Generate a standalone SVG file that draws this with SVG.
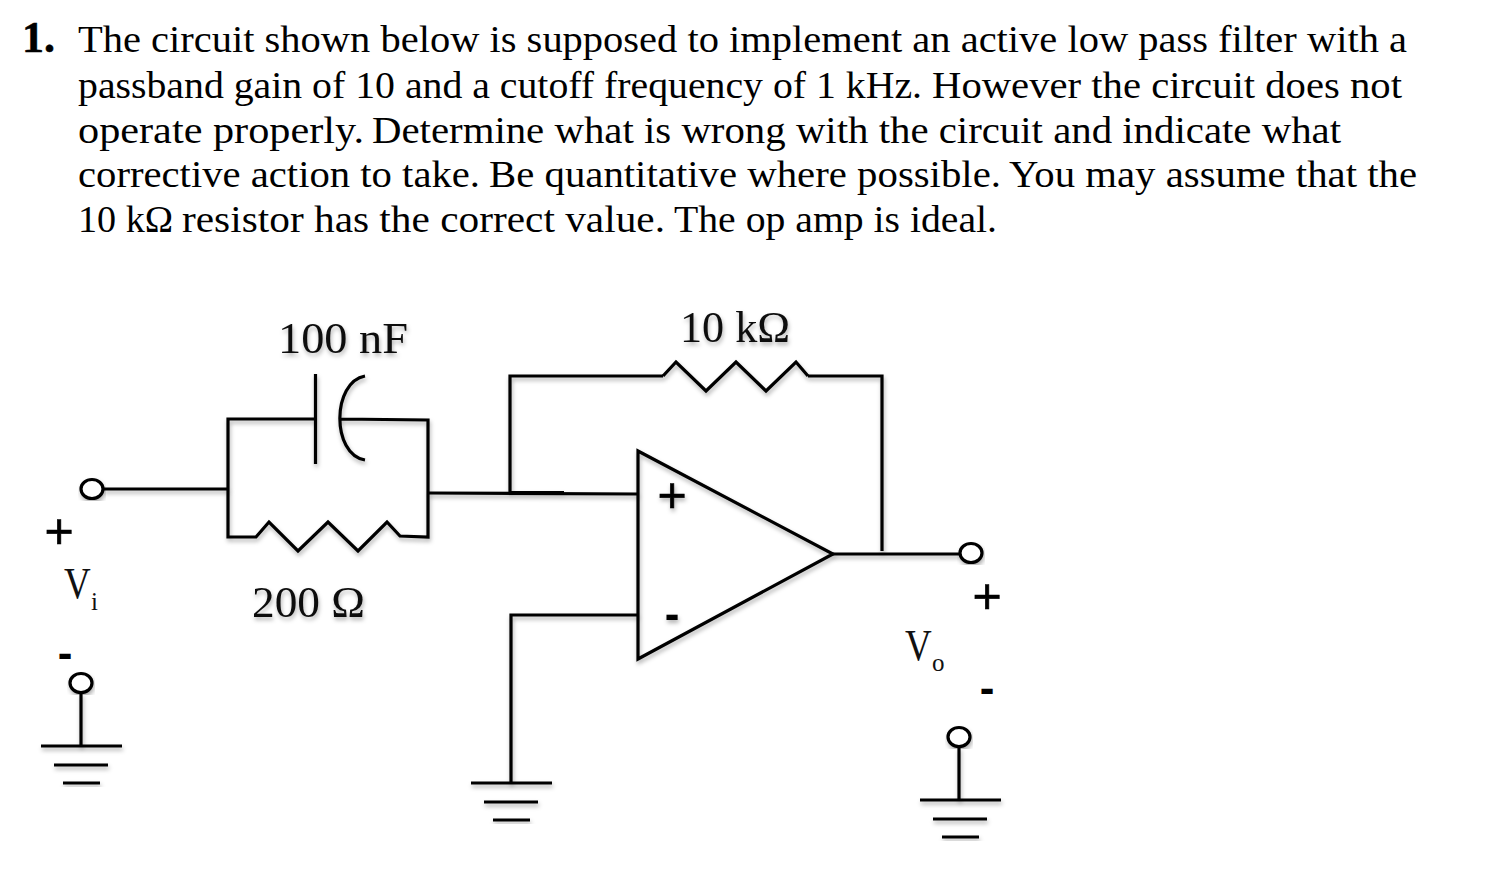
<svg xmlns="http://www.w3.org/2000/svg" width="1498" height="886" viewBox="0 0 1498 886">
<style>
.q{font-family:"Liberation Serif","Times New Roman",serif;font-size:38px;fill:#000}
.l{font-family:"Liberation Serif","Times New Roman",serif;font-size:44px;fill:#111}
.v{font-family:"Liberation Serif","Times New Roman",serif;font-size:37px;fill:#111}
.s{font-family:"Liberation Serif","Times New Roman",serif;font-size:25px;fill:#111}
.p{font-family:"Liberation Sans",Arial,sans-serif;font-size:50px;fill:#000;text-anchor:middle;stroke:#000;stroke-width:.6}
.m{font-family:"Liberation Sans",Arial,sans-serif;font-size:44px;font-weight:bold;fill:#000;text-anchor:middle}
.w{fill:none;stroke:#000;stroke-width:3.200;stroke-linejoin:miter}
.t{fill:#fff;stroke:#000;stroke-width:3.200}
.sh{filter:url(#shadow)}
</style>
<defs>
<filter id="shadow" x="-10%" y="-10%" width="120%" height="120%"><feDropShadow dx="1" dy="3" stdDeviation="2" flood-color="#000" flood-opacity="0.3"/></filter>
<g id="gnd"><path class="w" d="M0 0H81M13 19H67M22 37H59"/></g>
</defs>
<rect width="1498" height="886" fill="#fff"/>
<g id="question">
<text x="22" y="52" class="q" style="font-weight:bold;font-size:44px;stroke:#000;stroke-width:.5">1.</text>
<text x="78" y="52" class="q" textLength="1329" lengthAdjust="spacingAndGlyphs">The circuit shown below is supposed to implement an active low pass filter with a</text>
<text y="98" class="q"><tspan x="78" textLength="844" lengthAdjust="spacingAndGlyphs">passband gain of 10 and a cutoff frequency of 1 kHz.</tspan> <tspan x="932" textLength="470" lengthAdjust="spacingAndGlyphs">However the circuit does not</tspan></text>
<text y="143" class="q"><tspan x="78" textLength="286" lengthAdjust="spacingAndGlyphs">operate properly.</tspan> <tspan x="372" textLength="969" lengthAdjust="spacingAndGlyphs">Determine what is wrong with the circuit and indicate what</tspan></text>
<text y="187" class="q"><tspan x="78" textLength="402" lengthAdjust="spacingAndGlyphs">corrective action to take.</tspan> <tspan x="489" textLength="512" lengthAdjust="spacingAndGlyphs">Be quantitative where possible.</tspan> <tspan x="1009" textLength="408" lengthAdjust="spacingAndGlyphs">You may assume that the</tspan></text>
<text y="232" class="q"><tspan x="78" textLength="95" lengthAdjust="spacingAndGlyphs">10 kΩ</tspan> <tspan x="182" textLength="483" lengthAdjust="spacingAndGlyphs">resistor has the correct value.</tspan> <tspan x="674" textLength="323" lengthAdjust="spacingAndGlyphs">The op amp is ideal.</tspan></text>
</g>
<g id="connectors" class="sh">
<path class="w" d="M103 489H228"/>
<path class="w" d="M428 493L638 494"/>
<path class="w" style="stroke-width:4" d="M511 493H564"/>
<path class="w" d="M510 493V376H663"/>
<path class="w" d="M808 376H882V551"/>
<path class="w" d="M833 554H960"/>
<path class="w" d="M638 615H511V783"/>
<path class="w" d="M81 693V746"/>
<path class="w" d="M959 747V800"/>
</g>
<g id="capacitor" class="sh">
<path class="w" d="M228 489V419H314M315.500 374V464M365 376C332 382 331 454 365 460M340 419L428 420V489"/>
<text x="278" y="353" class="l" textLength="130" lengthAdjust="spacingAndGlyphs">100 nF</text>
</g>
<g id="resistor-200" class="sh">
<path class="w" d="M228 489V537H256L269 522L298 551L328 522L358 551L387 522L400 536L428 537V489"/>
<text x="252" y="617" class="l" textLength="113" lengthAdjust="spacingAndGlyphs">200 Ω</text>
</g>
<g id="resistor-10k" class="sh">
<path class="w" d="M663 376L676 362L706 391L736 362L766 391L796 362L808 376"/>
<text x="680" y="342" class="l" textLength="110" lengthAdjust="spacingAndGlyphs">10 kΩ</text>
</g>
<g id="opamp" class="sh">
<path class="w" d="M638 451L833 554L638 659Z"/>
<text x="672" y="512" class="p">+</text>
<text x="672" y="629" class="m">-</text>
</g>
<g id="input-top" class="sh"><ellipse class="t" cx="92" cy="489" rx="11" ry="9.500"/></g>
<g id="input-bottom" class="sh"><ellipse class="t" cx="81" cy="683" rx="11" ry="9.500"/></g>
<g id="output-top" class="sh"><ellipse class="t" cx="971" cy="553" rx="11" ry="9.500"/></g>
<g id="output-bottom" class="sh"><ellipse class="t" cx="959" cy="737" rx="11" ry="9.500"/></g>
<g id="vi-label">
<text x="59" y="548" class="p">+</text>
<text class="v" transform="translate(64 598) scale(1 1.180)">V</text>
<text x="91" y="610" class="s">i</text>
<text x="65" y="668" class="m">-</text>
</g>
<g id="vo-label">
<text x="987" y="613" class="p">+</text>
<text class="v" transform="translate(905 660) scale(1 1.180)">V</text>
<text x="932" y="671" class="s">o</text>
<text x="987" y="703" class="m">-</text>
</g>
<g id="ground-in" class="sh"><use href="#gnd" x="41" y="746"/></g>
<g id="ground-mid" class="sh"><use href="#gnd" x="471" y="783"/></g>
<g id="ground-out" class="sh"><use href="#gnd" x="920" y="800"/></g>
</svg>
